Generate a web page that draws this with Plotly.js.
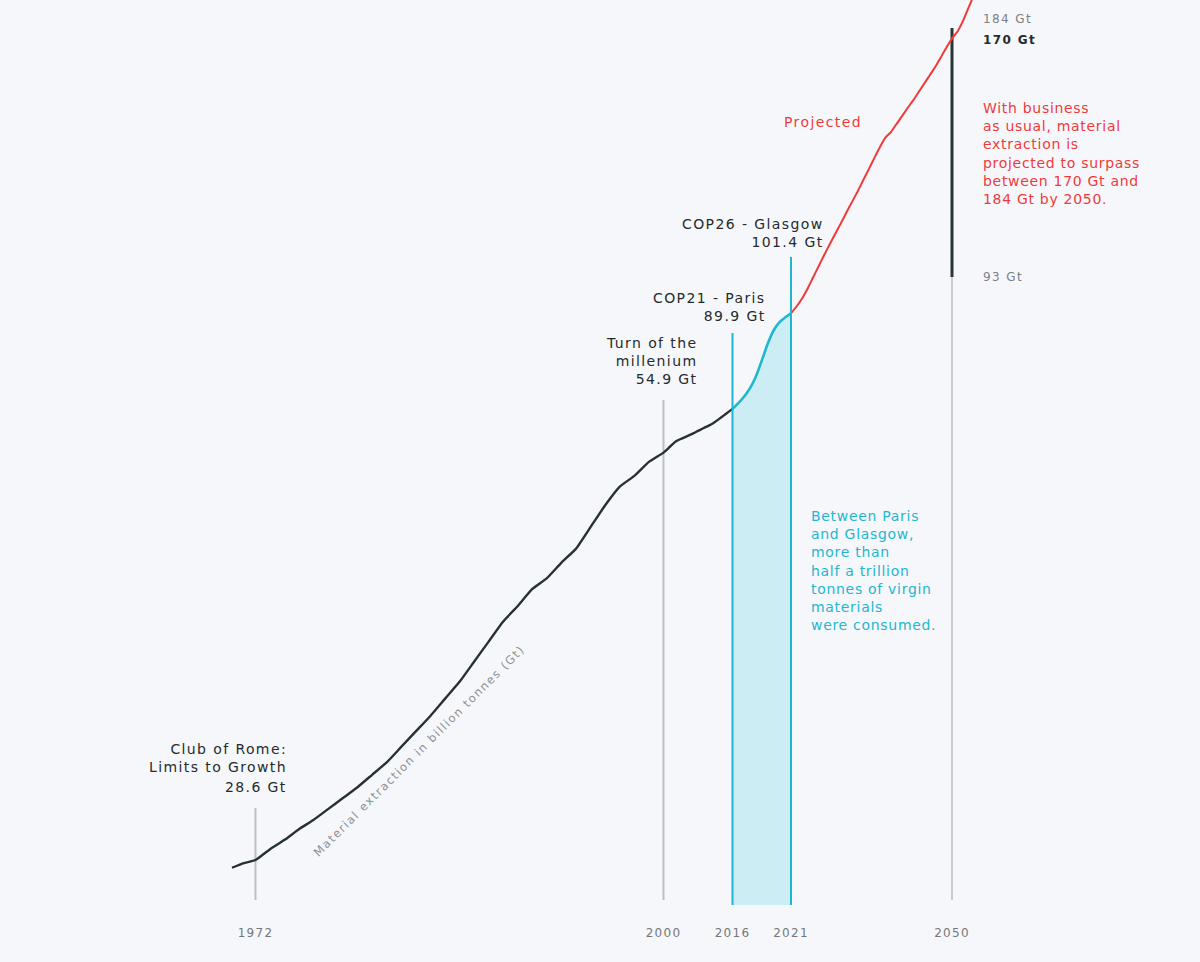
<!DOCTYPE html>
<html>
<head>
<meta charset="utf-8">
<script src="https://cdn.plot.ly/plotly-3.0.1.min.js"></script>
<style>
  html, body { margin: 0; padding: 0; background: #f6f7fb; }
  #chart { width: 1200px; height: 962px; }
  .annotation-text { letter-spacing: 1.4px; }
  .annotation[data-index="8"] .annotation-text,
  .annotation[data-index="10"] .annotation-text { letter-spacing: 0.7px; }
  .annotation[data-index="11"] .annotation-text { letter-spacing: 1.5px; }
  .xtick text { letter-spacing: 1.3px; }
</style>
</head>
<body>
<div id="chart"></div>
<script>
// ---------------- DATA ----------------
const years = [
  1970, 1971, 1972, 1973, 1974, 1975, 1976, 1977, 1978, 1979,
  1980, 1981, 1982, 1983, 1984, 1985, 1986, 1987, 1988, 1989,
  1990, 1991, 1992, 1993, 1994, 1995, 1996, 1997, 1998, 1999,
  2000, 2001, 2002, 2003, 2004, 2005, 2006, 2007, 2008, 2009,
  2010, 2011, 2012, 2013, 2014, 2015, 2016, 2016.5, 2017, 2017.5,
  2018, 2018.5, 2019, 2019.5, 2020, 2020.5, 2021
];
const extraction = [   // billion tonnes (Gt), historical
  28.1, 28.4, 28.6, 29.3, 29.9, 30.6, 31.2, 31.9, 32.6, 33.3,
  34.1, 34.9, 35.9, 36.9, 37.9, 39.0, 40.1, 41.4, 42.7, 44.0,
  45.0, 46.1, 46.8, 47.8, 48.7, 50.1, 51.5, 52.7, 53.4, 54.3,
  54.9, 57.9, 61.3, 64.1, 65.8, 67.3, 68.9, 70.5, 72.3, 74.0,
  75.7, 77.4, 79.6, 82.1, 84.7, 87.3, 89.9, 90.6, 91.4, 92.4,
  93.8, 95.7, 97.7, 99.3, 100.3, 100.9, 101.4
];
const projYears = [
  2021, 2022, 2023, 2024, 2025, 2026, 2027, 2028, 2029, 2030,
  2031, 2032, 2033, 2034, 2035, 2036, 2037, 2038, 2039, 2040,
  2041, 2042, 2043, 2044, 2045, 2046, 2047, 2048, 2049, 2050,
  2051, 2052, 2053, 2054
];
const projExtraction = [   // billion tonnes (Gt), business as usual
  101.4, 103.1, 105.1, 107.6, 110.4, 113.2, 116.0, 118.7, 121.3, 123.9,
  126.6, 129.2, 131.8, 134.6, 137.3, 140.1, 142.8, 145.2, 146.6, 148.6,
  150.6, 152.6, 154.5, 156.6, 158.7, 160.8, 162.9, 165.3, 167.7, 170.0,
  171.7, 174.4, 177.7, 181.0
];
const milestoneYears  = [1972, 2000, 2016, 2021];
const milestoneLabels = ['Club of Rome:<br>Limits to Growth', 'Turn of the<br>millenium', 'COP21 - Paris', 'COP26 - Glasgow'];
const milestoneValues = [28.6, 54.9, 89.9, 101.4];
const tickYears = [1972, 2000, 2016, 2021, 2050];
const rangeYear = 2050;
const rangeLow = 93;
const rangeCentral = 170;
const rangeHigh = 184;
const parisYear = 2016, glasgowYear = 2021;

// ---------------- SCALES (illustrative, piecewise) ----------------
const X_ANCH_YEARS = [1970, 1972, 2000, 2016, 2021, 2050];
const X_ANCH_POS   = [232, 255.5, 663.5, 732.5, 791, 952];
const Y_ANCH_GT    = [28.6, 54.9, 89.9, 101.4, 170];
const Y_ANCH_POS   = [45, 452.4, 496.1, 591.7, 866.7];
function piecewise(d, r) {
  return function (v) {
    let i = 0;
    if (v <= d[0]) i = 0;
    else if (v >= d[d.length - 1]) i = d.length - 2;
    else { while (v > d[i + 1]) i++; }
    const t = (v - d[i]) / (d[i + 1] - d[i]);
    return r[i] + t * (r[i + 1] - r[i]);
  };
}
const X = piecewise(X_ANCH_YEARS, X_ANCH_POS);
const Y = piecewise(Y_ANCH_GT, Y_ANCH_POS);
const PH = 905;                      // plot height (display units)
const P = (px) => 1 - px / PH;       // layout helper: vertical position -> paper

// ---------------- STYLE ----------------
const FONT = 'DejaVu Sans, Verdana, sans-serif';
const C_DARK = '#263232', C_CYAN = '#1fb6cf', C_RED = '#f03a3a';
const C_TXT = '#252b2b', C_GRAY_TXT = '#7b8085', C_LINE = '#bcc0c4';

// ---------------- TRACES ----------------
const sel = (lo, hi) => years.map((y, i) => i).filter(i => years[i] >= lo && years[i] <= hi);
const iDark = sel(1900, parisYear);
const iCyan = sel(parisYear, glasgowYear);

const traces = [
  {
    x: iCyan.map(i => X(years[i])), y: iCyan.map(i => Y(extraction[i])),
    mode: 'lines', fill: 'tozeroy', fillcolor: '#ccedf4',
    line: { color: C_CYAN, width: 2.6, shape: 'spline', smoothing: 0.6 },
    hoverinfo: 'skip', showlegend: false
  },
  {
    x: iDark.map(i => X(years[i])), y: iDark.map(i => Y(extraction[i])),
    mode: 'lines', line: { color: C_DARK, width: 2.4, shape: 'spline', smoothing: 0.5 },
    hoverinfo: 'skip', showlegend: false
  },
  {
    x: projYears.map(X), y: projExtraction.map(Y),
    mode: 'lines', line: { color: C_RED, width: 2, shape: 'spline', smoothing: 0.5 },
    hoverinfo: 'skip', showlegend: false
  }
];

// ---------------- SHAPES ----------------
const vline = (yr, top, bottom, color, width, layer) => ({
  type: 'line', xref: 'x', yref: 'paper', x0: X(yr), x1: X(yr), y0: P(bottom), y1: P(top),
  line: { color: color, width: width }, layer: layer
});
const shapes = [
  vline(milestoneYears[0], 808, 900, C_LINE, 2, 'below'),
  vline(milestoneYears[1], 400, 900, C_LINE, 2, 'below'),
  vline(milestoneYears[2], 333, 905, C_CYAN, 2, 'above'),
  vline(milestoneYears[3], 257, 905, C_CYAN, 2, 'above'),
  vline(rangeYear, 277, 900, '#c9ccd0', 2, 'below'),
  { type: 'line', xref: 'x', yref: 'y2', x0: X(rangeYear), x1: X(rangeYear), y0: rangeLow, y1: rangeHigh,
    line: { color: '#2b3535', width: 3 }, layer: 'below' }
];

// secondary scale for the projection range marker
const lowFrac = P(277), highFrac = P(28);
const span = (rangeHigh - rangeLow) / (highFrac - lowFrac);
const y2range = [rangeLow - lowFrac * span, rangeLow - lowFrac * span + span];

// ---------------- ANNOTATIONS ----------------
const lab = (o) => Object.assign({ showarrow: false, xref: 'x', yref: 'paper', yanchor: 'middle',
  font: { family: FONT, size: 14, color: C_TXT } }, o);
const annotations = [
  lab({ x: X(milestoneYears[0]), xanchor: 'right', xshift: 33, y: P(758), align: 'right', text: milestoneLabels[0] }),
  lab({ x: X(milestoneYears[0]), xanchor: 'right', xshift: 33, y: P(787), align: 'right', text: milestoneValues[0] + ' Gt' }),
  lab({ x: X(milestoneYears[1]), xanchor: 'right', xshift: 35, y: P(360.5), align: 'right', text: milestoneLabels[1] + '<br>' + milestoneValues[1] + ' Gt' }),
  lab({ x: X(milestoneYears[2]), xanchor: 'right', xshift: 35, y: P(307), align: 'right', text: milestoneLabels[2] + '<br>' + milestoneValues[2] + ' Gt' }),
  lab({ x: X(milestoneYears[3]), xanchor: 'right', xshift: 35, y: P(233), align: 'right', text: milestoneLabels[3] + '<br>' + milestoneValues[3] + ' Gt' }),
  lab({ x: X(glasgowYear), xanchor: 'right', xshift: 73, y: P(122), align: 'right', text: 'Projected',
        font: { family: FONT, size: 14, color: C_RED } }),
  lab({ x: X(rangeYear), xanchor: 'left', xshift: 29, yref: 'y2', y: rangeHigh, yshift: 9, text: rangeHigh + ' Gt',
        font: { family: FONT, size: 12, color: C_GRAY_TXT } }),
  lab({ x: X(rangeYear), xanchor: 'left', xshift: 29, yref: 'y', y: Y(rangeCentral), yshift: -2, text: '<b>' + rangeCentral + ' Gt</b>',
        font: { family: FONT, size: 12, color: C_TXT } }),
  lab({ x: X(rangeYear), xanchor: 'left', xshift: 29, y: P(153.5), align: 'left',
        text: 'With business<br>as usual, material<br>extraction is<br>projected to surpass<br>between ' + rangeCentral + ' Gt and<br>' + rangeHigh + ' Gt by ' + rangeYear + '.',
        font: { family: FONT, size: 14, color: C_RED } }),
  lab({ x: X(rangeYear), xanchor: 'left', xshift: 29, yref: 'y2', y: rangeLow, text: rangeLow + ' Gt',
        font: { family: FONT, size: 12, color: C_GRAY_TXT } }),
  lab({ x: X(glasgowYear), xanchor: 'left', xshift: 18, y: P(570), align: 'left',
        text: 'Between Paris<br>and Glasgow,<br>more than<br>half a trillion<br>tonnes of virgin<br>materials<br>were consumed.',
        font: { family: FONT, size: 14, color: C_CYAN } }),
  { showarrow: false, xref: 'paper', yref: 'paper', x: 419 / 1200, y: P(751), xanchor: 'center', yanchor: 'middle',
    textangle: -45, text: 'Material extraction in billion tonnes (Gt)',
    font: { family: FONT, size: 11.5, color: '#8b9095' } }
];

// ---------------- LAYOUT ----------------
const layout = {
  width: 1200, height: 962,
  margin: { l: 0, r: 0, t: 0, b: 962 - PH, pad: 0 },
  paper_bgcolor: '#f6f7fb', plot_bgcolor: '#f6f7fb',
  showlegend: false,
  xaxis: {
    range: [0, 1200], showgrid: false, zeroline: false, showline: false, ticks: '',
    tickmode: 'array', tickvals: tickYears.map(X), ticktext: tickYears.map(String),
    ticklabelstandoff: 19,
    tickfont: { family: FONT, size: 12, color: '#737879' }, fixedrange: true
  },
  yaxis: { range: [0, PH], visible: false, showgrid: false, zeroline: false, fixedrange: true },
  yaxis2: { range: y2range, overlaying: 'y', visible: false, showgrid: false, zeroline: false, fixedrange: true },
  shapes: shapes,
  annotations: annotations
};

Plotly.newPlot('chart', traces, layout, { displayModeBar: false, staticPlot: true });
</script>
</body>
</html>
